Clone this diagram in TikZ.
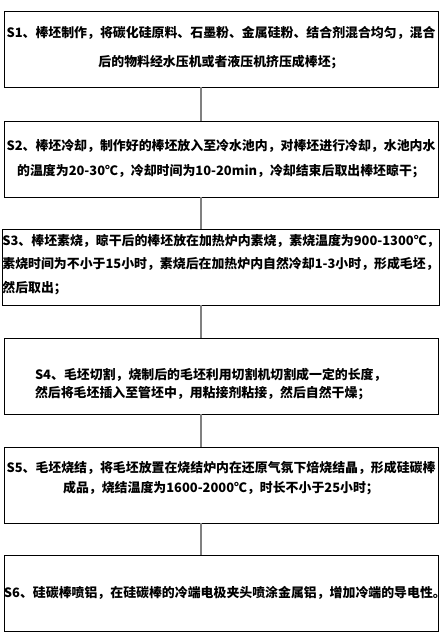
\documentclass[tikz,border=0pt]{standalone}
\usepackage{fontspec}
\newfontfamily\cjk{Noto Sans CJK SC}
\usepackage{tikz}
\tikzstyle{stepbox} = [draw=black, line width=0.8pt, minimum width=434pt, minimum height=76pt, inner sep=0pt]
\tikzstyle{link} = [draw=gray, line width=1.3pt]
\newcommand{\stepfont}[1]{\cjk\bfseries\fontsize{12.9pt}{#1}\selectfont}

\begin{document}
\begin{tikzpicture}[yscale=-1]
			\useasboundingbox (0pt,0pt) rectangle (447pt,639pt);
			\node[stepbox, align=center, font=\stepfont{29pt}, text depth=6pt] (s1) at (221pt,49pt) {S1、棒坯制作，将碳化硅原料、石墨粉、金属硅粉、结合剂混合均匀，混合\\后的物料经水压机或者液压机挤压成棒坯；};
			\node[stepbox, align=center, font=\stepfont{25pt}] (s2) at (221pt,159pt) {S2、棒坯冷却，制作好的棒坯放入至冷水池内，对棒坯进行冷却，水池内水\\的温度为20-30℃，冷却时间为10-20min，冷却结束后取出棒坯晾干；};
			\node[stepbox, align=left, font=\stepfont{23.5pt}, text depth=8pt] (s3) at (221pt,267pt) {S3、棒坯素烧，晾干后的棒坯放在加热炉内素烧，素烧温度为900-1300℃，\\素烧时间为不小于15小时，素烧后在加热炉内自然冷却1-3小时，形成毛坯，\\然后取出；};
			\node[stepbox, align=left, text width=372pt, font=\stepfont{18pt}, text depth=5pt] (s4) at (221pt,376pt) {S4、毛坯切割，烧制后的毛坯利用切割机切割成一定的长度，\\然后将毛坯插入至管坯中，用粘接剂粘接，然后自然干燥；};
			\node[stepbox, align=center, font=\stepfont{20pt}, text depth=16pt] (s5) at (221pt,485pt) {S5、毛坯烧结，将毛坯放置在烧结炉内在还原气氛下焙烧结晶，形成硅碳棒\\成品，烧结温度为1600-2000℃，时长不小于25小时；};
			\node[stepbox, font=\stepfont{20pt}] (s6) at (221pt,593pt) {\makebox[432pt][l]{\hspace*{-1pt}S6、硅碳棒喷铝，在硅碳棒的冷端电极夹头喷涂金属铝，增加冷端的导电性。}};
			\draw[link] ([xshift=-20pt]s1.south) -- ([xshift=-20pt]s2.north);
			\draw[link] ([xshift=-20pt]s2.south) -- ([xshift=-20pt]s3.north);
			\draw[link] ([xshift=-20pt]s3.south) -- ([xshift=-20pt]s4.north);
			\draw[link] ([xshift=-20pt]s4.south) -- ([xshift=-20pt]s5.north);
			\draw[link] ([xshift=-20pt]s5.south) -- ([xshift=-20pt]s6.north);
		\end{tikzpicture}
\end{document}
